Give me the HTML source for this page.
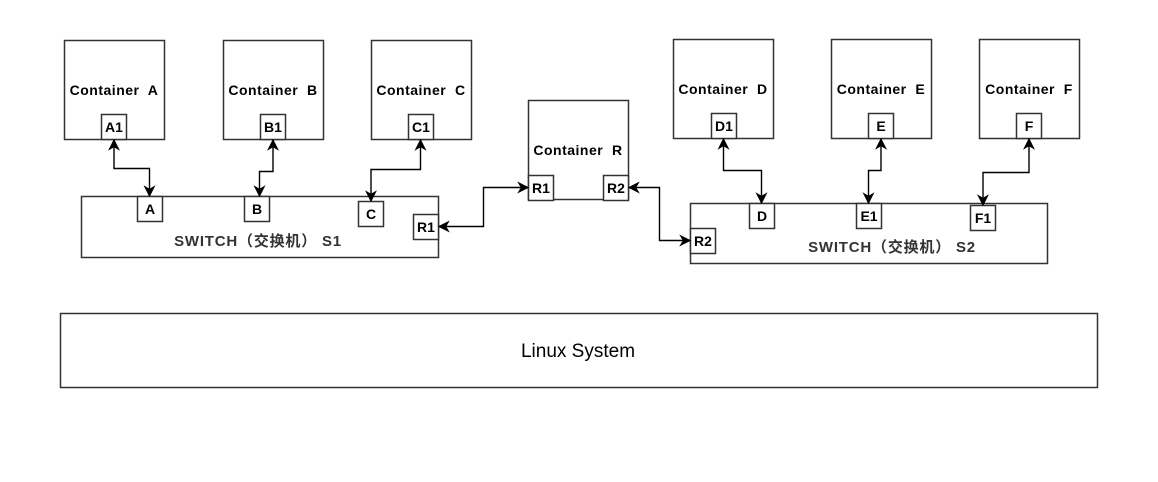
<!DOCTYPE html>
<html><head><meta charset="utf-8"><style>
html,body{margin:0;padding:0;background:#fff;}
svg{display:block;}
text{font-family:"Liberation Sans","Noto Sans CJK SC",sans-serif;}
</style></head><body>
<svg width="1158" height="482" viewBox="0 0 1158 482" xmlns="http://www.w3.org/2000/svg">
<defs>
<marker id="ar" viewBox="0 0 10 10" refX="9" refY="5" markerWidth="12" markerHeight="12" orient="auto-start-reverse" markerUnits="userSpaceOnUse">
<path d="M0,0 L10,5 L0,10 L3,5 Z" fill="#000"/>
</marker>
</defs>
<g fill="#fff" stroke="#333" stroke-width="1.5">
<rect x="64.5" y="40.5" width="100" height="99"/>
<rect x="223.5" y="40.5" width="100" height="99"/>
<rect x="371.5" y="40.5" width="100" height="99"/>
<rect x="528.5" y="100.5" width="100" height="99"/>
<rect x="673.5" y="39.5" width="100" height="99"/>
<rect x="831.5" y="39.5" width="100" height="99"/>
<rect x="979.5" y="39.5" width="100" height="99"/>
<rect x="81.5" y="196.5" width="357" height="61"/>
<rect x="690.5" y="203.5" width="357" height="60"/>
<rect x="60.5" y="313.5" width="1037" height="74"/>
<rect x="101.5" y="114.5" width="25" height="25"/>
<rect x="260.5" y="114.5" width="25" height="25"/>
<rect x="408.5" y="114.5" width="25" height="25"/>
<rect x="528.5" y="175.5" width="25" height="25"/>
<rect x="603.5" y="175.5" width="25" height="25"/>
<rect x="711.5" y="113.5" width="25" height="25"/>
<rect x="868.5" y="113.5" width="25" height="25"/>
<rect x="1016.5" y="113.5" width="25" height="25"/>
<rect x="137.5" y="196.5" width="25" height="25"/>
<rect x="244.5" y="196.5" width="25" height="25"/>
<rect x="358.5" y="201.5" width="25" height="25"/>
<rect x="413.5" y="214.5" width="25" height="25"/>
<rect x="749.5" y="203.5" width="25" height="25"/>
<rect x="856.5" y="203.5" width="25" height="25"/>
<rect x="970.5" y="205.5" width="25" height="25"/>
<rect x="690.5" y="228.5" width="25" height="25"/>
</g>
<g fill="none" stroke="#000" stroke-width="1.4" marker-start="url(#ar)" marker-end="url(#ar)">
<path d="M114,140 V168.5 H149.5 V196"/>
<path d="M273,140 V171.5 H259.5 V196"/>
<path d="M420.5,140 V169.5 H371 V201"/>
<path d="M439,226.5 H483.5 V187.5 H528"/>
<path d="M629,187.5 H659.5 V240.5 H690"/>
<path d="M723.5,139 V170.5 H761.5 V203"/>
<path d="M881,139 V170.5 H868.5 V203"/>
<path d="M1029,139 V172.5 H983 V205"/>
</g>
<g font-size="14" font-weight="bold" fill="#000" text-anchor="middle" letter-spacing="0.5">
<text x="114" y="95">Container&#160; A</text>
<text x="273" y="95">Container&#160; B</text>
<text x="421" y="95">Container&#160; C</text>
<text x="578" y="155">Container&#160; R</text>
<text x="723" y="94">Container&#160; D</text>
<text x="881" y="94">Container&#160; E</text>
<text x="1029" y="94">Container&#160; F</text>
</g>
<g font-size="14" font-weight="bold" fill="#000" text-anchor="middle">
<text x="114" y="132">A1</text>
<text x="273" y="132">B1</text>
<text x="421" y="132">C1</text>
<text x="541" y="193">R1</text>
<text x="616" y="193">R2</text>
<text x="724" y="131">D1</text>
<text x="881" y="131">E</text>
<text x="1029" y="131">F</text>
<text x="150" y="214">A</text>
<text x="257" y="214">B</text>
<text x="371" y="219">C</text>
<text x="426" y="232">R1</text>
<text x="762" y="221">D</text>
<text x="869" y="221">E1</text>
<text x="983" y="223">F1</text>
<text x="703" y="246">R2</text>
</g>
<g font-size="15" font-weight="bold" fill="#333" text-anchor="middle" letter-spacing="0.8">
<text x="258" y="246">SWITCH（交换机） S1</text>
<text x="892" y="252">SWITCH（交换机） S2</text>
</g>
<text x="578" y="357" font-size="19" fill="#000" text-anchor="middle">Linux System</text>
</svg>
</body></html>
